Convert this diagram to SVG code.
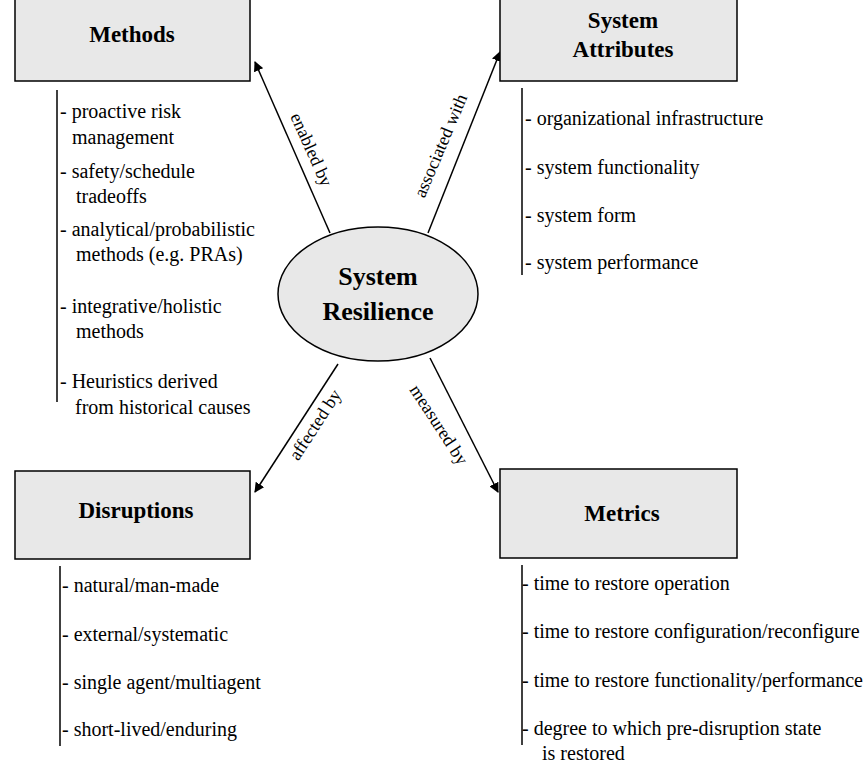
<svg xmlns="http://www.w3.org/2000/svg" width="868" height="773" viewBox="0 0 868 773">
<style>
text{font-family:"Liberation Serif","DejaVu Serif",serif;fill:#000}
.box{fill:#e8e8e8;stroke:#000;stroke-width:1.5}
.t{font-size:23px;font-weight:bold;text-anchor:middle}
.i{font-size:20px}
.l{font-size:18px}
.ln{stroke:#000;stroke-width:1.5;fill:none}
</style>
<defs><marker id="a" markerWidth="10" markerHeight="10" refX="9" refY="5" orient="auto" markerUnits="userSpaceOnUse"><path d="M0,0 L10,5 L0,10 z" fill="#000"/></marker></defs>
<g id="connectors">
<line class="ln" x1="330" y1="233" x2="255" y2="62" marker-end="url(#a)"/>
<line class="ln" x1="428" y1="233" x2="500" y2="52" marker-end="url(#a)"/>
<line class="ln" x1="338" y1="364" x2="255" y2="492" marker-end="url(#a)"/>
<line class="ln" x1="430" y1="358" x2="498" y2="492" marker-end="url(#a)"/>
<text class="l" transform="translate(306,152) rotate(66)" text-anchor="middle">enabled by</text>
<text class="l" transform="translate(446,148) rotate(-67)" text-anchor="middle">associated with</text>
<text class="l" transform="translate(320,428) rotate(-57)" text-anchor="middle">affected by</text>
<text class="l" transform="translate(434,428) rotate(57)" text-anchor="middle">measured by</text>
</g>
<g id="center"><ellipse cx="378" cy="294" rx="100" ry="67" fill="#e8e8e8" stroke="#000" stroke-width="1.5"/>
<text class="t" x="378" y="285" style="font-size:26px">System</text><text class="t" x="378" y="320" style="font-size:26px">Resilience</text></g>
<g id="methods"><rect class="box" x="15" y="-5" width="235" height="86"/><text class="t" x="132" y="42">Methods</text>
<line class="ln" x1="57" y1="90" x2="57" y2="402"/>
<text class="i" x="60" y="118">- proactive risk</text><text class="i" x="72" y="144">management</text>
<text class="i" x="60" y="178">- safety/schedule</text><text class="i" x="76" y="203">tradeoffs</text>
<text class="i" x="60" y="236">- analytical/probabilistic</text><text class="i" x="76" y="261">methods (e.g. PRAs)</text>
<text class="i" x="60" y="313">- integrative/holistic</text><text class="i" x="76" y="338">methods</text>
<text class="i" x="60" y="388">- Heuristics derived</text><text class="i" x="75" y="414">from historical causes</text></g>
<g id="attributes"><rect class="box" x="500" y="-5" width="237" height="86"/><text class="t" x="623" y="28">System</text><text class="t" x="623" y="57">Attributes</text>
<line class="ln" x1="522" y1="88" x2="522" y2="275"/>
<text class="i" x="525" y="125">- organizational infrastructure</text>
<text class="i" x="525" y="174">- system functionality</text>
<text class="i" x="525" y="222">- system form</text>
<text class="i" x="525" y="269">- system performance</text></g>
<g id="disruptions"><rect class="box" x="15" y="471" width="235" height="88"/><text class="t" x="136" y="518">Disruptions</text>
<line class="ln" x1="60" y1="566" x2="60" y2="746"/>
<text class="i" x="62" y="592">- natural/man-made</text>
<text class="i" x="62" y="641">- external/systematic</text>
<text class="i" x="62" y="689">- single agent/multiagent</text>
<text class="i" x="62" y="736">- short-lived/enduring</text></g>
<g id="metrics"><rect class="box" x="500" y="469" width="237" height="89"/><text class="t" x="622" y="521">Metrics</text>
<line class="ln" x1="522" y1="565" x2="522" y2="745"/>
<text class="i" x="522" y="590">- time to restore operation</text>
<text class="i" x="522" y="638">- time to restore configuration/reconfigure</text>
<text class="i" x="522" y="687">- time to restore functionality/performance</text>
<text class="i" x="522" y="735">- degree to which pre-disruption state</text>
<text class="i" x="542" y="760">is restored</text></g>
</svg>
